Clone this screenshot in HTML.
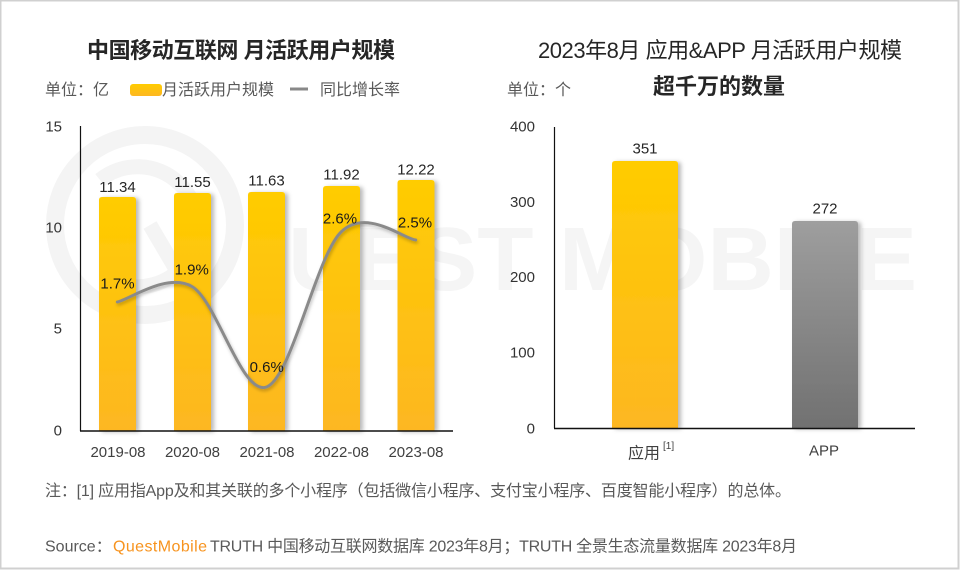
<!DOCTYPE html>
<html><head><meta charset="utf-8">
<style>
html,body{margin:0;padding:0;background:#fff;}
svg{display:block;}
text{font-family:"Liberation Sans","Noto Sans CJK SC",sans-serif;}
</style></head>
<body>
<svg width="960" height="570" viewBox="0 0 960 570" xmlns="http://www.w3.org/2000/svg">
<defs>
  <linearGradient id="yel" x1="0" y1="0" x2="0" y2="1">
    <stop offset="0" stop-color="#FFCC00"/>
    <stop offset="1" stop-color="#FDB722"/>
  </linearGradient>
  <linearGradient id="gry" x1="0" y1="0" x2="0" y2="1">
    <stop offset="0" stop-color="#9E9E9E"/>
    <stop offset="1" stop-color="#717171"/>
  </linearGradient>
  <filter id="sh" x="-20%" y="-10%" width="150%" height="120%">
    <feDropShadow dx="3" dy="1" stdDeviation="2" flood-color="#000" flood-opacity="0.28"/>
  </filter>
  <filter id="lsh" x="-10%" y="-10%" width="120%" height="130%">
    <feDropShadow dx="1" dy="2" stdDeviation="1.5" flood-color="#000" flood-opacity="0.25"/>
  </filter>
</defs>
<rect x="0.5" y="0.5" width="958" height="568" fill="#fff" stroke="#d0d0d0" stroke-width="2"/>

<!-- watermark -->
<g fill="none" stroke="#f4f4f4">
  <circle cx="145" cy="225" r="90" stroke-width="18"/>
  <path d="M 100 180 A 60 60 0 1 1 110 280" stroke-width="15"/>
  <path d="M 150 225 L 200 310" stroke-width="15"/>
</g>
<text x="288" y="290" font-size="90" font-weight="bold" fill="#f5f5f5" textLength="629" lengthAdjust="spacingAndGlyphs">UEST MOBILE</text>

<!-- Left chart title & legend -->
<text x="241" y="58" font-size="22" font-weight="bold" fill="#262626" text-anchor="middle" textLength="308" lengthAdjust="spacing">中国移动互联网 月活跃用户规模</text>
<text x="45" y="95" font-size="16" fill="#595959">单位：亿</text>
<rect x="130" y="84" width="32" height="12" rx="3" fill="url(#yel)"/>
<text x="162" y="95" font-size="16" fill="#595959">月活跃用户规模</text>
<line x1="290" y1="89" x2="308" y2="89" stroke="#888" stroke-width="3"/>
<text x="320" y="95" font-size="16" fill="#595959">同比增长率</text>

<!-- Left axis ticks -->
<g font-size="15" fill="#333" text-anchor="end">
  <text x="62" y="131.4">15</text>
  <text x="62" y="232.4">10</text>
  <text x="62" y="333.4">5</text>
  <text x="62" y="435.4">0</text>
</g>

<!-- Left bars -->
<g fill="url(#yel)" filter="url(#sh)">
  <path d="M99 431 V200 Q99 197 102 197 H133 Q136 197 136 200 V431 Z"/>
  <path d="M174 431 V196 Q174 193 177 193 H208 Q211 193 211 196 V431 Z"/>
  <path d="M248 431 V195 Q248 192 251 192 H282 Q285 192 285 195 V431 Z"/>
  <path d="M323 431 V189 Q323 186 326 186 H357 Q360 186 360 189 V431 Z"/>
  <path d="M397.5 431 V183 Q397.5 180 400.5 180 H431.5 Q434.5 180 434.5 183 V431 Z"/>
</g>

<!-- Left axes -->
<line x1="80.5" y1="126" x2="80.5" y2="431" stroke="#111" stroke-width="1.2"/>
<line x1="80" y1="431" x2="453" y2="431" stroke="#111" stroke-width="1.5"/>

<!-- value labels -->
<g font-size="15" fill="#262626" text-anchor="middle">
  <text x="117.5" y="192">11.34</text>
  <text x="192.5" y="187">11.55</text>
  <text x="266.5" y="185.5">11.63</text>
  <text x="341.5" y="179.5">11.92</text>
  <text x="416" y="174.5">12.22</text>
</g>

<!-- growth line -->
<path d="M117.3 302 C129.7 299.4 167.0 272.3 191.9 286.5 C216.8 300.7 241.6 396.1 266.5 387 C291.4 377.9 316.2 256.5 341.1 232 C366.0 207.5 403.3 238.7 415.7 240"
  fill="none" stroke="#8a8a8a" stroke-width="3" stroke-linecap="round" filter="url(#lsh)"/>

<g font-size="15" fill="#1a1a1a" text-anchor="middle">
  <text x="117.5" y="288.5">1.7%</text>
  <text x="191.7" y="274.5">1.9%</text>
  <text x="266.7" y="372">0.6%</text>
  <text x="340" y="223.5">2.6%</text>
  <text x="415" y="227.5">2.5%</text>
</g>

<!-- Left x labels -->
<g font-size="15" fill="#404040" text-anchor="middle">
  <text x="118" y="457">2019-08</text>
  <text x="192.5" y="457">2020-08</text>
  <text x="267" y="457">2021-08</text>
  <text x="341.5" y="457">2022-08</text>
  <text x="416" y="457">2023-08</text>
</g>

<!-- Right chart title -->
<text x="720" y="58" font-size="22" fill="#262626" text-anchor="middle" textLength="364" lengthAdjust="spacing">2023年8月 应用&amp;APP 月活跃用户规模</text>
<text x="719" y="94" font-size="22" font-weight="bold" fill="#262626" text-anchor="middle">超千万的数量</text>
<text x="507" y="95" font-size="16" fill="#595959">单位：个</text>

<!-- Right ticks -->
<g font-size="15" fill="#333" text-anchor="end">
  <text x="535" y="131.4">400</text>
  <text x="535" y="207">300</text>
  <text x="535" y="282">200</text>
  <text x="535" y="357.4">100</text>
  <text x="535" y="433.4">0</text>
</g>

<!-- Right bars -->
<g filter="url(#sh)">
  <path fill="url(#yel)" d="M612 428 V164 Q612 161 615 161 H675 Q678 161 678 164 V428 Z"/>
  <path fill="url(#gry)" d="M792 428 V224 Q792 221 795 221 H855 Q858 221 858 224 V428 Z"/>
</g>
<line x1="554.5" y1="127" x2="554.5" y2="428" stroke="#111" stroke-width="1.2"/>
<line x1="554" y1="428.5" x2="915" y2="428.5" stroke="#111" stroke-width="1.5"/>

<g font-size="15" fill="#262626" text-anchor="middle">
  <text x="645" y="153.7">351</text>
  <text x="825" y="213.7">272</text>
</g>

<text x="628" y="458.7" font-size="16" fill="#404040">应用</text>
<text x="663" y="449" font-size="10" fill="#404040">[1]</text>
<text x="824" y="455.5" font-size="15" fill="#404040" text-anchor="middle">APP</text>

<!-- Note & source -->
<text x="45" y="496" font-size="16" fill="#595959" textLength="746" lengthAdjust="spacing">注：[1] 应用指App及和其关联的多个小程序（包括微信小程序、支付宝小程序、百度智能小程序）的总体。</text>
<text x="45" y="551.7" font-size="16" fill="#595959">Source：</text>
<text x="113" y="551.7" font-size="16" fill="#F7931E" textLength="94" lengthAdjust="spacing">QuestMobile</text>
<text x="210" y="551.7" font-size="16" fill="#595959" textLength="587" lengthAdjust="spacing">TRUTH 中国移动互联网数据库 2023年8月；TRUTH 全景生态流量数据库 2023年8月</text>
</svg>
</body></html>
